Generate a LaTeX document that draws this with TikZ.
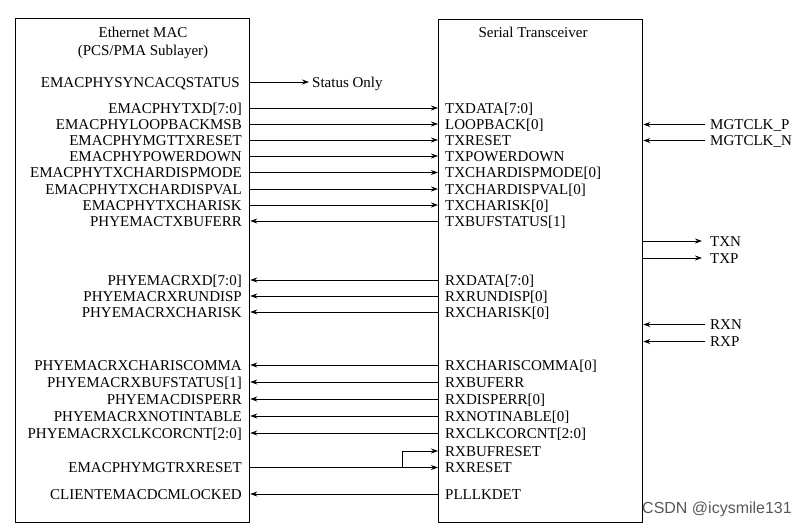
\documentclass[tikz,border=0pt]{standalone}
\usepackage{fontspec}
\setmainfont{Liberation Serif}
\newfontfamily\wmfont{Liberation Sans}
\usetikzlibrary{arrows.meta}
\begin{document}
\begin{tikzpicture}[x=1pt,y=-1pt,
  lab/.style={inner sep=0pt, font=\fontsize{15}{17}\selectfont, text height=10pt, text depth=0pt},
  llab/.style={lab, anchor=east},
  rlab/.style={lab, anchor=west},
  ttl/.style={lab, anchor=center},
  blk/.style={draw, line width=1.3pt, inner sep=0pt, anchor=north west},
  sig/.style={line width=0.9pt, -{Stealth[length=7pt,width=5pt]}},
  wire/.style={line width=0.9pt}]
\useasboundingbox (0,0) rectangle (808,528);
% blocks
\node[blk, minimum width=234pt, minimum height=504pt] (mac) at (15,18) {};
\node[blk, minimum width=204pt, minimum height=503pt] (ser) at (438,19) {};
\node[ttl] (t1) at (143,32) {Ethernet MAC};
\node[ttl] (t2) at (143,50) {(PCS/PMA Sublayer)};
\node[ttl] (t3) at (533,32) {Serial Transceiver};
% status
\node[llab] (a0) at (240,82) {EMACPHYSYNCACQSTATUS};
\node[rlab] (so) at (312,82) {Status Only};
\draw[sig] (mac.east |- a0) -- ([xshift=-3pt]so.west);
% left labels
\node[llab] (l1) at (242,108) {EMACPHYTXD[7:0]};
\node[llab] (l2) at (242,124) {EMACPHYLOOPBACKMSB};
\node[llab] (l3) at (242,140) {EMACPHYMGTTXRESET};
\node[llab] (l4) at (242,156) {EMACPHYPOWERDOWN};
\node[llab] (l5) at (242,172.5) {EMACPHYTXCHARDISPMODE};
\node[llab] (l6) at (242,189) {EMACPHYTXCHARDISPVAL};
\node[llab] (l7) at (242,205) {EMACPHYTXCHARISK};
\node[llab] (l8) at (242,221) {PHYEMACTXBUFERR};
\node[llab] (l9) at (242,280) {PHYEMACRXD[7:0]};
\node[llab] (l10) at (242,296) {PHYEMACRXRUNDISP};
\node[llab] (l11) at (242,312) {PHYEMACRXCHARISK};
\node[llab] (l12) at (242,365) {PHYEMACRXCHARISCOMMA};
\node[llab] (l13) at (242,382) {PHYEMACRXBUFSTATUS[1]};
\node[llab] (l14) at (242,399) {PHYEMACDISPERR};
\node[llab] (l15) at (242,416) {PHYEMACRXNOTINTABLE};
\node[llab] (l16) at (242,433) {PHYEMACRXCLKCORCNT[2:0]};
\node[llab] (l17) at (242,467.5) {EMACPHYMGTRXRESET};
\node[llab] (l18) at (242,494) {CLIENTEMACDCMLOCKED};
% right labels
\node[rlab] (r1) at (445,108) {TXDATA[7:0]};
\node[rlab] (r2) at (445,124) {LOOPBACK[0]};
\node[rlab] (r3) at (445,140) {TXRESET};
\node[rlab] (r4) at (445,156) {TXPOWERDOWN};
\node[rlab] (r5) at (445,172.5) {TXCHARDISPMODE[0]};
\node[rlab] (r6) at (445,189) {TXCHARDISPVAL[0]};
\node[rlab] (r7) at (445,205) {TXCHARISK[0]};
\node[rlab] (r8) at (445,221) {TXBUFSTATUS[1]};
\node[rlab] (r9) at (445,280) {RXDATA[7:0]};
\node[rlab] (r10) at (445,296) {RXRUNDISP[0]};
\node[rlab] (r11) at (445,312) {RXCHARISK[0]};
\node[rlab] (r12) at (445,365) {RXCHARISCOMMA[0]};
\node[rlab] (r13) at (445,382) {RXBUFERR};
\node[rlab] (r14) at (445,399) {RXDISPERR[0]};
\node[rlab] (r15) at (445,416) {RXNOTINABLE[0]};
\node[rlab] (r16) at (445,433) {RXCLKCORCNT[2:0]};
\node[rlab] (r17a) at (445,451) {RXBUFRESET};
\node[rlab] (r17) at (445,467.5) {RXRESET};
\node[rlab] (r18) at (445,494) {PLLLKDET};
% MAC -> transceiver
\foreach \i in {1,...,7}
  \draw[sig] (mac.east |- l\i) -- (ser.west |- r\i);
% transceiver -> MAC
\foreach \i in {8,...,16,18}
  \draw[sig] (ser.west |- r\i) -- (mac.east |- l\i);
% reset branch
\draw[sig] (mac.east |- l17) -- (ser.west |- r17);
\coordinate (jn) at (402,467.5);
\draw[sig] (jn) |- (ser.west |- r17a);
% external pins
\node[rlab] (e1) at (710,124.5) {MGTCLK\_P};
\node[rlab] (e2) at (710,140.5) {MGTCLK\_N};
\node[rlab] (e3) at (710,241) {TXN};
\node[rlab] (e4) at (710,258) {TXP};
\node[rlab] (e5) at (710,324.5) {RXN};
\node[rlab] (e6) at (710,341.5) {RXP};
\draw[sig] ([xshift=-5pt]e1.west) -- (ser.east |- e1);
\draw[sig] ([xshift=-5pt]e2.west) -- (ser.east |- e2);
\draw[sig] (ser.east |- e3) -- ([xshift=-8pt]e3.west);
\draw[sig] (ser.east |- e4) -- ([xshift=-8pt]e4.west);
\draw[sig] ([xshift=-5pt]e5.west) -- (ser.east |- e5);
\draw[sig] ([xshift=-5pt]e6.west) -- (ser.east |- e6);
% watermark
\node[inner sep=0pt, anchor=west, font=\wmfont\fontsize{16}{18}\selectfont, text=black!65] (wm) at (642,509) {CSDN @icysmile131};
\end{tikzpicture}
\end{document}
